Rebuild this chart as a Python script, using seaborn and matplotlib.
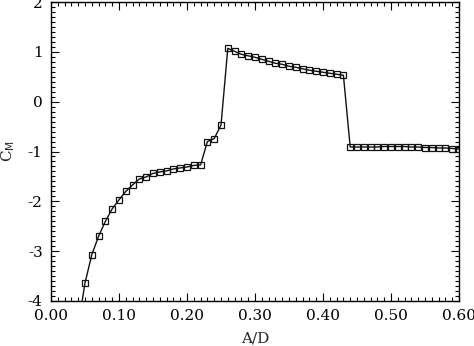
import matplotlib
matplotlib.use("Agg")
import matplotlib.pyplot as plt
import seaborn as sns
import numpy as np
from matplotlib.ticker import MultipleLocator, FixedLocator

x_vals = [0.04, 0.05, 0.06, 0.07, 0.08, 0.09, 0.10, 0.11, 0.12, 0.13, 0.14, 0.15,
          0.16, 0.17, 0.18, 0.19, 0.20, 0.21, 0.22, 0.23, 0.24, 0.25, 0.26, 0.27,
          0.28, 0.29, 0.30, 0.31, 0.32, 0.33, 0.34, 0.35, 0.36, 0.37, 0.38, 0.39,
          0.40, 0.41, 0.42, 0.43, 0.44, 0.45, 0.46, 0.47, 0.48, 0.49, 0.50, 0.51,
          0.52, 0.53, 0.54, 0.55, 0.56, 0.57, 0.58, 0.59, 0.60]
cm_vals = [-4.5, -3.64, -3.07, -2.70, -2.40, -2.15, -1.97, -1.80, -1.67, -1.55, -1.51, -1.44,
           -1.41, -1.39, -1.35, -1.33, -1.31, -1.28, -1.27, -0.80, -0.74, -0.47, 1.07, 1.01,
           0.95, 0.92, 0.89, 0.85, 0.81, 0.77, 0.75, 0.71, 0.69, 0.66, 0.63, 0.61,
           0.59, 0.57, 0.55, 0.53, -0.91, -0.91, -0.91, -0.91, -0.91, -0.90, -0.90, -0.90,
           -0.90, -0.91, -0.91, -0.92, -0.92, -0.93, -0.93, -0.94, -0.95]
x_ticks = [0.0, 0.1, 0.2, 0.3, 0.4, 0.5, 0.6]
x_ticklabels = ["0.00", "0.10", "0.20", "0.30", "0.40", "0.50", "0.60"]
y_ticks = [-4, -3, -2, -1, 0, 1, 2]
y_ticklabels = ["-4", "-3", "-2", "-1", "0", "1", "2"]

sns.set_theme(style="ticks")
plt.rcParams['font.family'] = ['DejaVu Serif']

fig = plt.figure(figsize=(4.74, 3.46), dpi=100)
ax = fig.add_axes([51/474, 45/346, 408/474, 299/346])

sns.lineplot(x=x_vals, y=cm_vals, ax=ax, color="#111111", linewidth=1.0,
             marker="s", markersize=5, markerfacecolor="none",
             markeredgecolor="#111111", markeredgewidth=0.9)

ax.set_xlim(0, 0.6)
ax.set_ylim(-4, 2)
ax.xaxis.set_major_locator(FixedLocator(x_ticks))
ax.set_xticklabels(x_ticklabels)
ax.yaxis.set_major_locator(FixedLocator(y_ticks))
ax.set_yticklabels(y_ticklabels)
ax.xaxis.set_minor_locator(MultipleLocator(0.01))
ax.yaxis.set_minor_locator(MultipleLocator(0.1))
ax.tick_params(which="both", direction="in", top=True, right=True, colors="black",
               labelsize=11, width=0.8)
ax.tick_params(which="major", length=6, pad=6)
ax.tick_params(which="minor", length=3)
for s in ax.spines.values():
    s.set_visible(True)
    s.set_color("black")
    s.set_linewidth(1.0)

ax.set_xlabel("A/D", fontsize=11, labelpad=6)
ax.set_ylabel(r"C$_\mathrm{M}$", fontsize=11, labelpad=8)

fig.savefig("out.png", dpi=100)
